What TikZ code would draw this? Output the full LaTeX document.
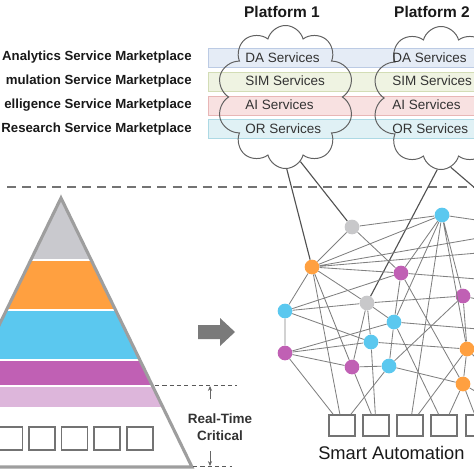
\documentclass[tikz,border=0pt]{standalone}
\usepackage{fontspec}
\setmainfont{Liberation Sans}
\usetikzlibrary{shapes.symbols,arrows.meta}

\definecolor{ncyan}{HTML}{5BC8EF}
\definecolor{ngray}{HTML}{C8C8CA}
\definecolor{norange}{HTML}{FFA040}
\definecolor{npurple}{HTML}{C060B4}
\definecolor{pgray}{HTML}{C9C9CE}
\definecolor{plilac}{HTML}{DDB6DB}
\definecolor{daf}{HTML}{E5ECF6}
\definecolor{dab}{HTML}{BCCBE4}
\definecolor{simf}{HTML}{EFF3E2}
\definecolor{simb}{HTML}{D3DDB6}
\definecolor{aif}{HTML}{F8E1E1}
\definecolor{aib}{HTML}{E8B6B6}
\definecolor{orf}{HTML}{E0F1F5}
\definecolor{orb}{HTML}{ADD9E4}

\tikzset{
  dot/.style={circle,inner sep=0pt,minimum size=10.45pt},
  link/.style={draw=black!50,line width=0.6pt},
  uplink/.style={draw=black!68,line width=0.8pt},
  devbox/.style={draw=black!55,line width=0.9pt,minimum width=18.5pt,minimum height=14.9pt,inner sep=0pt},
  plcbox/.style={draw=black!55,line width=0.9pt,minimum width=18.5pt,minimum height=16.4pt,inner sep=0pt},
  cloudy/.style={cloud,cloud puffs=10,cloud ignores aspect,minimum width=97.5pt,minimum height=101.7pt,draw=black!62,line width=0.7pt},
  mktlabel/.style={anchor=east,inner sep=0pt,text=black!90,font=\bfseries\fontsize{9.4}{11.5}\selectfont},
  svc/.style={anchor=west,inner sep=0pt,text=black!80,font=\fontsize{9.6}{12}\selectfont},
  title/.style={inner sep=0pt,text=black!90,font=\bfseries\fontsize{11}{13}\selectfont}
}

\begin{document}
\begin{tikzpicture}[x=0.025cm,y=-0.025cm]
   \useasboundingbox (0,0) rectangle (474,474);
   \clip (0,0) rectangle (474,474);
   % service marketplaces
   \draw[draw=dab,fill=daf] (208,48) rectangle (490,67);
   \draw[draw=simb,fill=simf] (208,72) rectangle (490,91);
   \draw[draw=aib,fill=aif] (208,96) rectangle (490,115);
   \draw[draw=orb,fill=orf] (208,119) rectangle (490,138);
   \node[mktlabel] (mda) at (192,57.5) {Analytics Service Marketplace};
   \node[mktlabel] (msim) at (192,81) {mulation Service Marketplace};
   \node[mktlabel] (mai) at (192,105) {elligence Service Marketplace};
   \node[mktlabel] (mor) at (192,129) {Research Service Marketplace};
   \node[cloudy] (cl1) at (285.5,97) {};
   \node[cloudy] (cl2) at (441,98) {};
   \node[title] (pf1) at (282,12) {Platform 1};
   \node[title] (pf2) at (432,12) {Platform 2};
   \node[svc] (da1) at (245,57.5) {DA Services};
   \node[svc] (sim1) at (245,81) {SIM Services};
   \node[svc] (ai1) at (245,105) {AI Services};
   \node[svc] (or1) at (245,129) {OR Services};
   \node[svc] (da2) at (392,57.5) {DA Services};
   \node[svc] (sim2) at (392,81) {SIM Services};
   \node[svc] (ai2) at (392,105) {AI Services};
   \node[svc] (or2) at (392,129) {OR Services};
   \draw[black!55,line width=1.7pt,dash pattern=on 6.4pt off 4.3pt] (7,187) -- (490,187);

   % automation pyramid
   \begin{scope}
      \clip (61,198) -- (192,467) -- (-70,467) -- cycle;
      \fill[pgray] (-80,190) rectangle (200,260);
      \fill[norange] (-80,260) rectangle (200,310);
      \fill[ncyan] (-80,310) rectangle (200,360);
      \fill[npurple] (-80,360) rectangle (200,386);
      \fill[plilac] (-80,386) rectangle (200,408);
      \draw[white,line width=0.8pt] (-80,260) -- (200,260) (-80,310) -- (200,310)
         (-80,360) -- (200,360) (-80,386) -- (200,386) (-80,408) -- (200,408);
   \end{scope}
   \draw[black!38,line width=2.2pt,line join=miter] (61,198) -- (192,467) -- (-70,467) -- cycle;
   \foreach \i/\x in {1/9.5,2/42,3/74.5,4/107,5/140}
      \node[plcbox] (plc\i) at (\x,438.5) {};

   % real-time critical
   \coordinate (rtop) at (210,386);
   \coordinate (rtopend) at (210,399);
   \coordinate (rbot) at (210,466);
   \coordinate (rbotend) at (210,451);
   \draw[black!65,line width=0.7pt,dash pattern=on 3pt off 2.2pt] (155,385) -- (237,385);
   \draw[black!65,line width=0.7pt,dash pattern=on 3pt off 2.2pt] (193,466) -- (232,466);
   \draw[black!60,line width=0.6pt,-{Stealth[length=3.5pt,width=3pt]}] (rtopend) -- (rtop);
   \draw[black!60,line width=0.6pt,-{Stealth[length=3.5pt,width=3pt]}] (rbotend) -- (rbot);
   \node[align=center,inner sep=0pt,text=black!80,font=\bfseries\fontsize{9.6}{12}\selectfont] (rtc) at (220,427) {Real-Time\\Critical};

   % big arrow
   \fill[black!52] (198,325) -- (220,325) -- (220,318) -- (235,332) -- (220,346) -- (220,339) -- (198,339) -- cycle;

   % network nodes
   \node[dot,fill=ncyan] (c1) at (442,215) {};
   \node[dot,fill=ngray] (g1) at (352,227) {};
   \node[dot,fill=norange] (o1) at (312,267) {};
   \node[dot,fill=npurple] (p1) at (401,273) {};
   \node[dot,fill=npurple] (p2) at (463,296) {};
   \node[dot,fill=ngray] (g2) at (367,303) {};
   \node[dot,fill=ncyan] (c2) at (285,311) {};
   \node[dot,fill=ncyan] (c3) at (394,322) {};
   \node[dot,fill=ncyan] (c4) at (371,342) {};
   \node[dot,fill=npurple] (p3) at (285,353) {};
   \node[dot,fill=npurple] (p4) at (352,367) {};
   \node[dot,fill=ncyan] (c5) at (389,366) {};
   \node[dot,fill=norange] (o2) at (467,349) {};
   \node[dot,fill=norange] (o3) at (463,384) {};
   \foreach \i/\x in {1/342,2/376,3/410,4/444,5/479}
      \node[devbox] (dev\i) at (\x,425.5) {};
   \node[anchor=west,inner sep=0pt,text=black!90,font=\fontsize{13}{15}\selectfont] (sal) at (318,453) {Smart Automation};

   \coordinate (r0) at (490,201);
   \coordinate (r1) at (490,222);
   \coordinate (r2) at (490,236);
   \coordinate (r3) at (490,252);
   \coordinate (r4) at (490,280);
   \coordinate (r5) at (490,302);
   \coordinate (r6) at (490,330);
   \coordinate (r7) at (490,372);
   \coordinate (r8) at (490,400);

   % cloud links
   \draw[uplink] (cl1.-89) -- (o1);
   \draw[uplink] (cl1.-77) -- (g1);
   \draw[uplink] (cl2.-93) -- (g2);
   \draw[uplink] (cl2.-82) -- (r0);

   % mesh
   \draw[link] (g1) -- (c1) (g1) -- (o1) (g1) -- (p1);
   \draw[link] (o1) -- (c1) (o1) -- (r2) (o1) -- (r3) (o1) -- (p1) (o1) -- (c2)
      (o1) -- (g2) (o1) -- (dev1) (o1) -- (p4);
   \draw[link] (c1) -- (p1) (c1) -- (p2) (c1) -- (dev3) (c1) -- (r1) (c1) -- (o2) (c1) -- (c3);
   \draw[link] (p1) -- (c2) (p1) -- (c3) (p1) -- (r4) (p1) -- (o3);
   \draw[link] (p2) -- (g2) (p2) -- (c5) (p2) -- (r5) (p2) -- (o2);
   \draw[link] (g2) -- (c3) (g2) -- (c2) (g2) -- (p4) (g2) -- (c4);
   \draw[link] (c2) -- (p3) (c2) -- (c4);
   \draw[link] (c3) -- (c5) (c3) -- (p3) (c3) -- (r6) (c3) -- (dev4);
   \draw[link] (c4) -- (p3) (c4) -- (o2) (c4) -- (dev2);
   \draw[link] (p3) -- (dev1) (p3) -- (p4);
   \draw[link] (p4) -- (c5) (p4) -- (dev2);
   \draw[link] (c5) -- (dev1) (c5) -- (o3);
   \draw[link] (o2) -- (dev3) (o2) -- (o3) (o2) -- (r7);
   \draw[link] (o3) -- (dev4) (o3) -- (dev5) (o3) -- (r8);
\end{tikzpicture}
\end{document}
